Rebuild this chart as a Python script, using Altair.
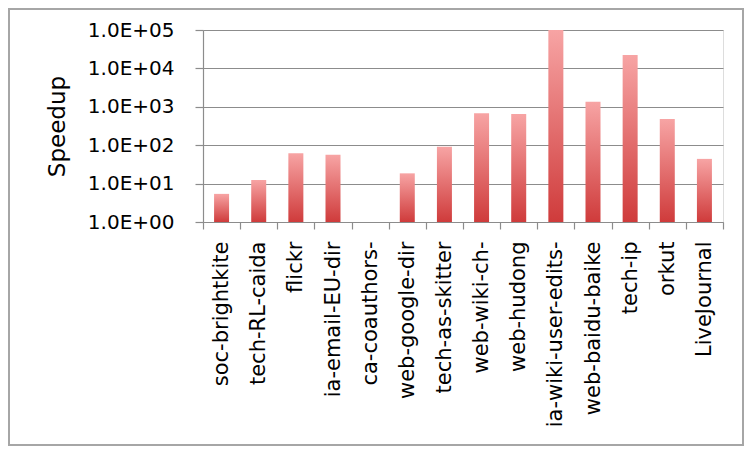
import altair as alt
import pandas as pd

categories = ["soc-brightkite", "tech-RL-caida", "flickr", "ia-email-EU-dir",
              "ca-coauthors-", "web-google-dir", "tech-as-skitter", "web-wiki-ch-",
              "web-hudong", "ia-wiki-user-edits-", "web-baidu-baike", "tech-ip",
              "orkut", "LiveJournal"]
speedup = [5.4, 12.4, 62, 56, 1.0, 18.5, 91, 680, 650, 100000, 1360, 22300, 480, 44]
y_ticks = [1, 10, 100, 1000, 10000, 100000]

df = pd.DataFrame({"graph": categories, "speedup": speedup})

FONT = "DejaVu Sans"
W, H = 520, 192
GRID = "#8c8c8c"

gradient = alt.LinearGradient(
    gradient="linear",
    stops=[alt.GradientStop(color="#f7a4a4", offset=0),
           alt.GradientStop(color="#cf3b3b", offset=1)],
    x1=0, x2=0, y1=0, y2=1,
)

x_enc = alt.X("graph:N", sort=categories,
              scale=alt.Scale(paddingInner=0, paddingOuter=0),
              axis=alt.Axis(title=None, labelAngle=-90, labelFont=FONT, labelFontSize=21,
                            labelColor="black", labelPadding=12, tickBand="extent",
                            tickSize=7, tickColor=GRID, domainColor=GRID, domainWidth=1.2,
                            tickWidth=1.2, labelLimit=400))
y_enc = alt.Y("speedup:Q",
              scale=alt.Scale(type="log", domain=[1, 100000], nice=False),
              axis=alt.Axis(title="Speedup", values=y_ticks,
                            labelExpr="'1.0E+' + (log(datum.value)/LN10 < 9.5 ? '0' : '') + format(log(datum.value)/LN10, '.0f')",
                            labelFont=FONT, labelFontSize=20, labelColor="black",
                            labelPadding=21, tickSize=8, tickColor=GRID, tickWidth=1.2,
                            domainColor=GRID, domainWidth=1.2,
                            grid=True, gridColor=GRID, gridWidth=1.2,
                            titleFont=FONT, titleFontSize=23, titleFontWeight="normal",
                            titleColor="black", titleAngle=-90, titleX=-146, titleY=96,
                            titleAlign="center", titleBaseline="middle"))

bars = alt.Chart(df).mark_bar(size=15, fill=gradient).encode(
    x=x_enc, y=y_enc, y2=alt.datum(1)
)

border = alt.Chart(pd.DataFrame({"a": [0]})).mark_rect(
    fillOpacity=0, stroke="#a6a6a6", strokeWidth=2
).encode(
    x=alt.value(-194), x2=alt.value(540), y=alt.value(-21), y2=alt.value(415)
)

chart = alt.layer(bars, border).properties(
    width=W, height=H,
    autosize=alt.AutoSizeParams(type="none"),
    padding={"left": 195, "top": 22, "right": 21, "bottom": 224},
).configure_view(stroke=None).configure(background="white")

chart.save("out.html", embed_options={"renderer": "svg", "actions": False})
